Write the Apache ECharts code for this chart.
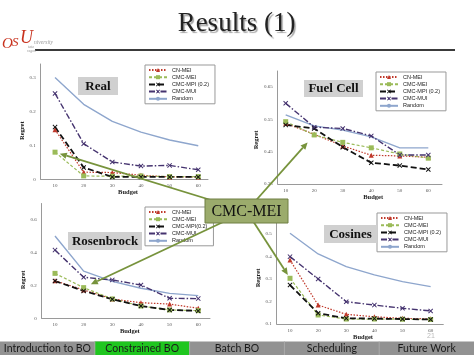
<!DOCTYPE html>
<html><head><meta charset="utf-8">
<script src="https://cdn.jsdelivr.net/npm/echarts@6/dist/echarts.min.js"></script>
<style>html,body{margin:0;padding:0;background:#fff}#c{width:474px;height:355px}</style>
</head><body><div id="c"></div>
<script>
// ---------- data ----------
const budgets = [10, 20, 30, 40, 50, 60];
const seriesNames = ['CN-MEI', 'CMC-MEI', 'CMC-MPI (0.2)', 'CMC-MUI', 'Random'];
const rosenNames = ['CN-MEI', 'CMC-MEI', 'CMC-MPI(0.2)', 'CMC-MUI', 'Random'];
const panelTitles = ['Real', 'Fuel Cell', 'Rosenbrock', 'Cosines'];
const calloutText = 'CMC-MEI';
const slideTitle = 'Results (1)';
const navItems = ['Introduction to BO', 'Constrained BO', 'Batch BO', 'Scheduling', 'Future Work'];
const pageNumber = '21';

const realCnMei  = [0.146, 0.021, 0.020, 0.012, 0.007, 0.007];
const realCmcMei = [0.080, 0.010, 0.009, 0.010, 0.008, 0.008];
const realCmcMpi = [0.154, 0.035, 0.007, 0.007, 0.007, 0.007];
const realCmcMui = [0.253, 0.105, 0.051, 0.039, 0.041, 0.028];
const realRandom = [0.300, 0.221, 0.171, 0.139, 0.116, 0.099];

const fuelCnMei  = [0.538, 0.504, 0.468, 0.439, 0.437, 0.433];
const fuelCmcMei = [0.543, 0.502, 0.479, 0.462, 0.443, 0.430];
const fuelCmcMpi = [0.533, 0.522, 0.464, 0.416, 0.407, 0.395];
const fuelCmcMui = [0.600, 0.526, 0.522, 0.499, 0.440, 0.440];
const fuelRandom = [0.564, 0.530, 0.517, 0.496, 0.462, 0.462];

const rosenCnMei  = [0.229, 0.173, 0.118, 0.095, 0.087, 0.061];
const rosenCmcMei = [0.274, 0.187, 0.118, 0.075, 0.051, 0.047];
const rosenCmcMpi = [0.227, 0.167, 0.116, 0.075, 0.051, 0.045];
const rosenCmcMui = [0.416, 0.250, 0.234, 0.203, 0.122, 0.120];
const rosenRandom = [0.502, 0.288, 0.225, 0.183, 0.152, 0.138];

const cosCnMei  = [0.384, 0.184, 0.143, 0.132, 0.125, 0.123];
const cosCmcMei = [0.303, 0.140, 0.122, 0.122, 0.121, 0.120];
const cosCmcMpi = [0.273, 0.148, 0.125, 0.124, 0.122, 0.120];
const cosCmcMui = [0.399, 0.300, 0.199, 0.184, 0.170, 0.158];
const cosRandom = [0.503, 0.411, 0.355, 0.318, 0.288, 0.266];

const realYTicks  = [0, 0.1, 0.2, 0.3];
const fuelYTicks  = [0.35, 0.45, 0.55, 0.65];
const rosenYTicks = [0, 0.2, 0.4, 0.6];
const cosYTicks   = [0.1, 0.2, 0.3, 0.4, 0.5];

const panelData = [
  { names: seriesNames, values: [realCnMei, realCmcMei, realCmcMpi, realCmcMui, realRandom], yTicks: realYTicks },
  { names: seriesNames, values: [fuelCnMei, fuelCmcMei, fuelCmcMpi, fuelCmcMui, fuelRandom], yTicks: fuelYTicks },
  { names: rosenNames,  values: [rosenCnMei, rosenCmcMei, rosenCmcMpi, rosenCmcMui, rosenRandom], yTicks: rosenYTicks },
  { names: seriesNames, values: [cosCnMei, cosCmcMei, cosCmcMpi, cosCmcMui, cosRandom], yTicks: cosYTicks }
];

// ---------- layout / style ----------
const layout = [
  { grid: {left: 40.7, top: 64, width: 167.3, height: 115.3}, xMin: 5.0, xMax: 63.4, yMin: 0, yMax: 0.34,
    legend: {left: 145, top: 65}, box: [78, 77, 40, 18], regretShift: 9, regretGap: 9, budgetShift: 3.7, budgetGap: 6.5, arrowIdx: 0, shrink: 5 },
  { grid: {left: 277.7, top: 71, width: 164.3, height: 113}, xMin: 7.2, xMax: 64.8, yMin: 0.35, yMax: 0.70,
    legend: {left: 376, top: 72}, box: [304, 80, 59, 17], regretShift: 12.5, regretGap: 14, budgetShift: 13.3, budgetGap: 7.5, arrowIdx: 1, shrink: 10 },
  { grid: {left: 41.7, top: 203.5, width: 168.3, height: 114.8}, xMin: 5.36, xMax: 64.1, yMin: 0, yMax: 0.7,
    legend: {left: 145, top: 207}, box: [68, 232, 74, 18], regretShift: 19, regretGap: 11, budgetShift: 4, budgetGap: 7.5, arrowIdx: 1, shrink: 8 },
  { grid: {left: 276.7, top: 215, width: 166.6, height: 109}, xMin: 5.27, xMax: 64.5, yMin: 0.1, yMax: 0.584,
    legend: {left: 377, top: 213}, box: [324, 225, 53, 18], regretShift: 8.5, regretGap: 13, budgetShift: 3, budgetGap: 8.5, arrowIdx: 0, shrink: 4 }
];
const xSym = 'path://M0,1.4L1.4,0L5,3.6L8.6,0L10,1.4L6.4,5L10,8.6L8.6,10L5,6.4L1.4,10L0,8.6L3.6,5Z';
const styles = [
  { color: '#c0392b', type: [1.5, 1.5], symbol: 'triangle', size: 5, width: 1.2 },
  { color: '#9bbb59', type: [3, 2], symbol: 'rect', size: 5, width: 1.2 },
  { color: '#111111', type: [6, 3], symbol: xSym, size: 5, width: 1.8 },
  { color: '#45336f', type: [6, 2, 1.5, 2], symbol: xSym, size: 5, width: 1.4 },
  { color: '#8ea6cd', type: 'solid', symbol: 'none', size: 0, width: 1.4 }
];
const serif = '"Liberation Serif", "DejaVu Serif", serif';
const sans = '"Liberation Sans", Arial, sans-serif';

const grids = [], xAxes = [], yAxes = [], series = [], legends = [];
layout.forEach((L, p) => {
  grids.push(Object.assign({containLabel: false}, L.grid));
  xAxes.push({
    type: 'value', gridIndex: p, min: L.xMin, max: L.xMax,
    name: 'Budget', nameLocation: 'middle', nameGap: L.budgetGap,
    nameTextStyle: {fontFamily: serif, fontWeight: 'bold', fontSize: 6.5, color: '#222', padding: [0, 0, 0, 2 * L.budgetShift]},
    axisLine: {lineStyle: {color: '#9a9a9a', width: 1}},
    axisTick: {show: false}, splitLine: {show: false},
    axisLabel: {customValues: budgets, fontFamily: serif, fontSize: 5, color: '#555', margin: 4}
  });
  yAxes.push({
    type: 'value', gridIndex: p, min: L.yMin, max: L.yMax,
    name: 'Regret', nameLocation: 'middle', nameGap: L.regretGap,
    nameTextStyle: {fontFamily: serif, fontWeight: 'bold', fontSize: 6.5, color: '#222', padding: [0, 2 * L.regretShift, 0, 0]},
    axisLine: {show: true, lineStyle: {color: '#9a9a9a', width: 1}},
    axisTick: {show: false}, splitLine: {show: false},
    axisLabel: {customValues: panelData[p].yTicks, fontFamily: serif, fontSize: 5, color: '#555', margin: 5}
  });
  panelData[p].values.forEach((vals, k) => {
    const s = styles[k];
    series.push({
      type: 'line', name: panelData[p].names[k], xAxisIndex: p, yAxisIndex: p,
      data: budgets.map((b, i) => [b, vals[i]]),
      symbol: s.symbol, symbolSize: s.size, showSymbol: s.symbol !== 'none',
      itemStyle: {color: s.color},
      lineStyle: {color: s.color, type: s.type, width: s.width},
      z: k === 4 ? 2 : 3, animation: false
    });
  });
  legends.push({
    data: panelData[p].names, orient: 'vertical', left: L.legend.left, top: L.legend.top,
    itemWidth: 18, itemHeight: 5, itemGap: 1.2, padding: [2, 6, 2, 3],
    borderColor: '#999', borderWidth: 1, backgroundColor: '#fff', selectedMode: false,
    textStyle: {fontSize: 5.5, fontFamily: sans, color: '#222'}
  });
});

const chart = echarts.init(document.getElementById('c'), null, {renderer: 'canvas'});
chart.setOption({
  backgroundColor: '#fff', animation: false,
  grid: grids, xAxis: xAxes, yAxis: yAxes, series: series, legend: legends
});

// ---------- decorations ----------
const g = [];
g.push({type: 'text', z: 50, style: {x: 236.5, y: 24, text: slideTitle, align: 'center', verticalAlign: 'middle',
  font: '27px ' + serif, fill: '#222', textShadowColor: 'rgba(0,0,0,0.35)', textShadowOffsetX: 1.5, textShadowOffsetY: 1.5, textShadowBlur: 1}});
g.push({type: 'line', z: 50, shape: {x1: 35, y1: 50, x2: 455, y2: 50}, style: {stroke: '#3a3a3a', lineWidth: 1.8}});
// logo
g.push({type: 'text', z: 50, style: {x: 2, y: 52, text: 'O', font: 'italic 15px ' + serif, fill: '#c8321e', verticalAlign: 'bottom'}});
g.push({type: 'text', z: 50, style: {x: 12, y: 49, text: 'S', font: 'italic 13px ' + serif, fill: '#c8321e', verticalAlign: 'bottom'}});
g.push({type: 'text', z: 50, style: {x: 20, y: 47, text: 'U', font: 'italic 18px ' + serif, fill: '#c8321e', verticalAlign: 'bottom'}});
g.push({type: 'text', z: 50, style: {x: 34, y: 43, text: 'niversity', font: 'italic 5.5px ' + serif, fill: '#999', verticalAlign: 'middle'}});
g.push({type: 'text', z: 50, style: {x: 28, y: 47, text: 'tate', font: 'italic 4px ' + serif, fill: '#999', verticalAlign: 'middle'}});
g.push({type: 'text', z: 50, style: {x: 27, y: 51, text: 'regon', font: 'italic 4px ' + serif, fill: '#999', verticalAlign: 'middle'}});
// panel title boxes
layout.forEach((L, p) => {
  const [bx, by, bw, bh] = L.box;
  g.push({type: 'rect', z: 5, shape: {x: bx, y: by, width: bw, height: bh}, style: {fill: '#d0d0d0'}});
  g.push({type: 'text', z: 6, style: {x: bx + bw / 2, y: by + bh / 2 + 0.5, text: panelTitles[p], align: 'center', verticalAlign: 'middle',
    font: 'bold 13px ' + serif, fill: '#111'}});
});
// arrows from callout
const cx = 246.5, cy = 211;
layout.forEach((L, p) => {
  const t = chart.convertToPixel({seriesIndex: p * 5 + 1}, [budgets[L.arrowIdx], panelData[p].values[1][L.arrowIdx]]);
  let dx = t[0] - cx, dy = t[1] - cy; const len = Math.hypot(dx, dy); dx /= len; dy /= len;
  const tip = [t[0] - dx * L.shrink, t[1] - dy * L.shrink];
  const base = [tip[0] - dx * 7, tip[1] - dy * 7];
  const px = -dy * 3.2, py = dx * 3.2;
  g.push({type: 'line', z: 30, shape: {x1: cx, y1: cy, x2: base[0], y2: base[1]}, style: {stroke: '#77933c', lineWidth: 1.8}});
  g.push({type: 'polygon', z: 30, shape: {points: [tip, [base[0] + px, base[1] + py], [base[0] - px, base[1] - py]]}, style: {fill: '#77933c'}});
});
g.push({type: 'rect', z: 40, shape: {x: 205, y: 199, width: 83, height: 24}, style: {fill: '#9bab6c', stroke: '#6e7f42', lineWidth: 1}});
g.push({type: 'text', z: 41, style: {x: 246.5, y: 211.5, text: calloutText, align: 'center', verticalAlign: 'middle', font: '16px ' + serif, fill: '#111'}});
// page number
g.push({type: 'text', z: 50, style: {x: 431, y: 336, text: pageNumber, align: 'center', verticalAlign: 'middle', font: '7px ' + sans, fill: '#bbb'}});
// nav bar
const secW = 474 / navItems.length;
g.push({type: 'rect', z: 60, shape: {x: 0, y: 341.5, width: 474, height: 14}, style: {fill: '#929292'}});
navItems.forEach((name, i) => {
  if (i === 1) g.push({type: 'rect', z: 61, shape: {x: i * secW, y: 341.5, width: secW, height: 14}, style: {fill: '#1fc61f'}});
  if (i > 0) g.push({type: 'line', z: 62, shape: {x1: i * secW, y1: 341.5, x2: i * secW, y2: 355}, style: {stroke: '#aaa', lineWidth: 1}});
  g.push({type: 'text', z: 63, style: {x: i * secW + secW / 2, y: 348.8, text: name, align: 'center', verticalAlign: 'middle',
    font: '10.5px Lato, "Open Sans", sans-serif', fill: '#1a1a1a'}});
});
chart.setOption({graphic: {elements: g}});
</script>
</body></html>
